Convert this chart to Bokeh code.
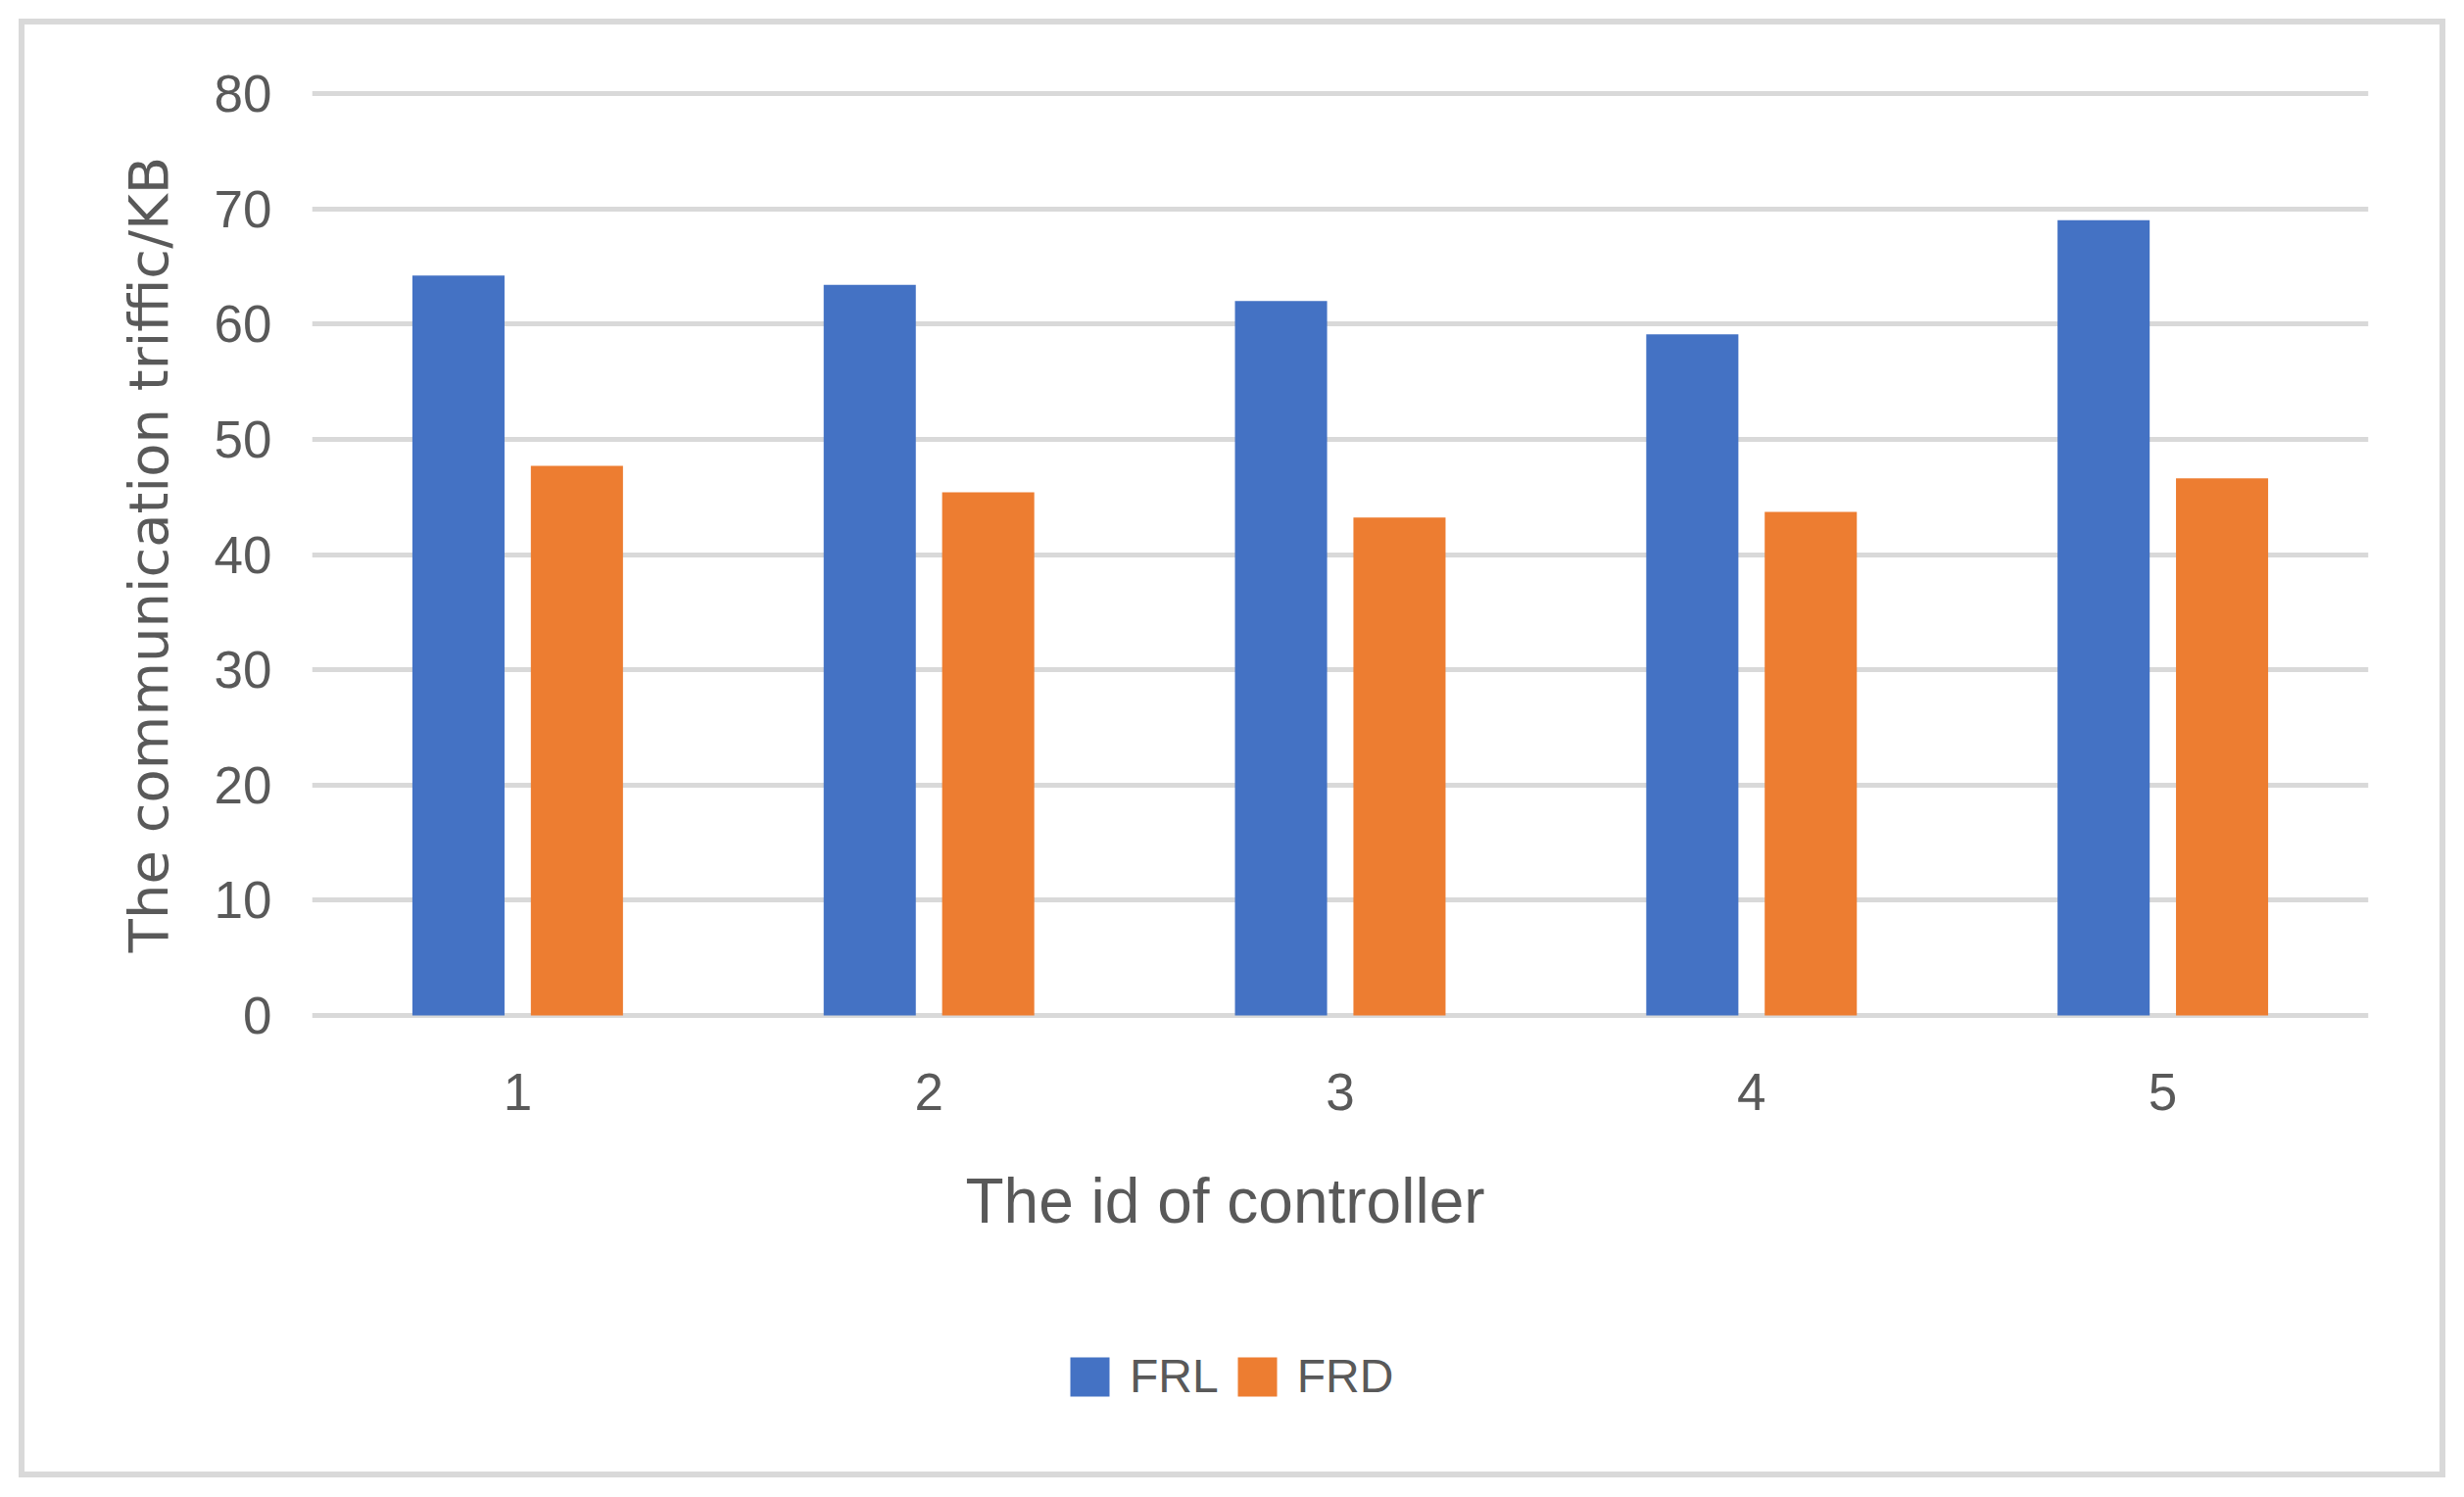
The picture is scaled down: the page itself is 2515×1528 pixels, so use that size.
from bokeh.plotting import figure
from bokeh.layouts import column
from bokeh.models import (Range1d, FixedTicker, ColumnDataSource, Legend, LegendItem, Title)
from bokeh.embed import file_html
from bokeh.resources import INLINE

# ---- data ----
controller_ids = [1, 2, 3, 4, 5]
frl_values = [64.2, 63.4, 62.0, 59.1, 69.0]
frd_values = [47.7, 45.4, 43.2, 43.7, 46.6]
y_ticks = [0, 10, 20, 30, 40, 50, 60, 70, 80]
series_names = ["FRL", "FRD"]

x_label = "The id of controller"
y_label = "The communication triffic/KB"

BLUE = "#4472C4"
ORANGE = "#ED7D31"
GRID = "#D9D9D9"
TEXT = "#595959"

CW = 2465          # inner width of the bordered chart box
MAIN_H = 1320
LEG_H = 157

p = figure(width=CW, height=MAIN_H, output_backend="svg", toolbar_location=None,
           x_range=Range1d(0.5, 5.5), y_range=Range1d(-0.5, 80.5),
           min_border_left=293, min_border_right=73,
           min_border_top=64, min_border_bottom=303,
           background_fill_color="white", border_fill_color="white")
p.outline_line_color = None

offset = 0.144
bw = 0.224
src = ColumnDataSource(dict(
    x_frl=[c - offset for c in controller_ids],
    x_frd=[c + offset for c in controller_ids],
    frl=frl_values, frd=frd_values))

p.vbar(x="x_frl", top="frl", width=bw, source=src, fill_color=BLUE, line_color=None)
p.vbar(x="x_frd", top="frd", width=bw, source=src, fill_color=ORANGE, line_color=None)

# axes
p.xaxis.ticker = FixedTicker(ticks=controller_ids)
p.yaxis.ticker = FixedTicker(ticks=y_ticks)
for ax in (p.xaxis[0], p.yaxis[0]):
    ax.axis_line_color = None
    ax.major_tick_line_color = None
    ax.minor_tick_line_color = None
    ax.major_label_text_color = TEXT
    ax.major_label_text_font = "Liberation Sans"
    ax.major_label_text_font_size = "53px"
    ax.axis_label_text_color = TEXT
    ax.axis_label_text_font_style = "normal"

p.yaxis.major_label_standoff = 35
p.yaxis.axis_label = y_label
p.yaxis.axis_label_text_font = "DejaVu Sans"
p.yaxis.axis_label_text_font_size = "56px"
p.yaxis.axis_label_standoff = 32

p.xaxis.major_label_standoff = 47

p.xgrid.grid_line_color = None
p.ygrid.grid_line_color = GRID
p.ygrid.grid_line_width = 5

# x axis title, centred on the whole chart like the reference
xtitle = Title(text=x_label, align="left", offset=667,
               text_font="Liberation Sans", text_font_size="64px",
               text_font_style="normal", text_color=TEXT, standoff=105)
p.add_layout(xtitle, "below")

# legend strip (separate figure so the legend is never clipped)
lf = figure(width=CW, height=LEG_H, output_backend="svg", toolbar_location=None,
            x_range=Range1d(100, 101), y_range=Range1d(1000, 1001),
            min_border_left=293, min_border_right=73, min_border_top=0, min_border_bottom=0,
            background_fill_color="white", border_fill_color="white")
lf.outline_line_color = None
lf.axis.visible = False
lf.grid.visible = False
l1 = lf.vbar(x="x_frl", top="frl", width=bw, source=src, fill_color=BLUE, line_color=None)
l2 = lf.vbar(x="x_frd", top="frd", width=bw, source=src, fill_color=ORANGE, line_color=None)

legend = Legend(items=[LegendItem(label=series_names[0], renderers=[l1]),
                       LegendItem(label=series_names[1], renderers=[l2])],
                orientation="horizontal", location=(769, 70),
                glyph_width=50, glyph_height=50, label_standoff=16, spacing=14,
                padding=0, margin=0, border_line_color=None,
                background_fill_alpha=0,
                label_text_font="Liberation Sans", label_text_font_size="48px",
                label_text_color=TEXT)
lf.add_layout(legend, "center")

layout = column(p, lf, margin=(25, 0, 0, 25),
                styles={"outline": "6px solid #D9D9D9"})

open("out.html", "w").write(file_html(layout, INLINE))
